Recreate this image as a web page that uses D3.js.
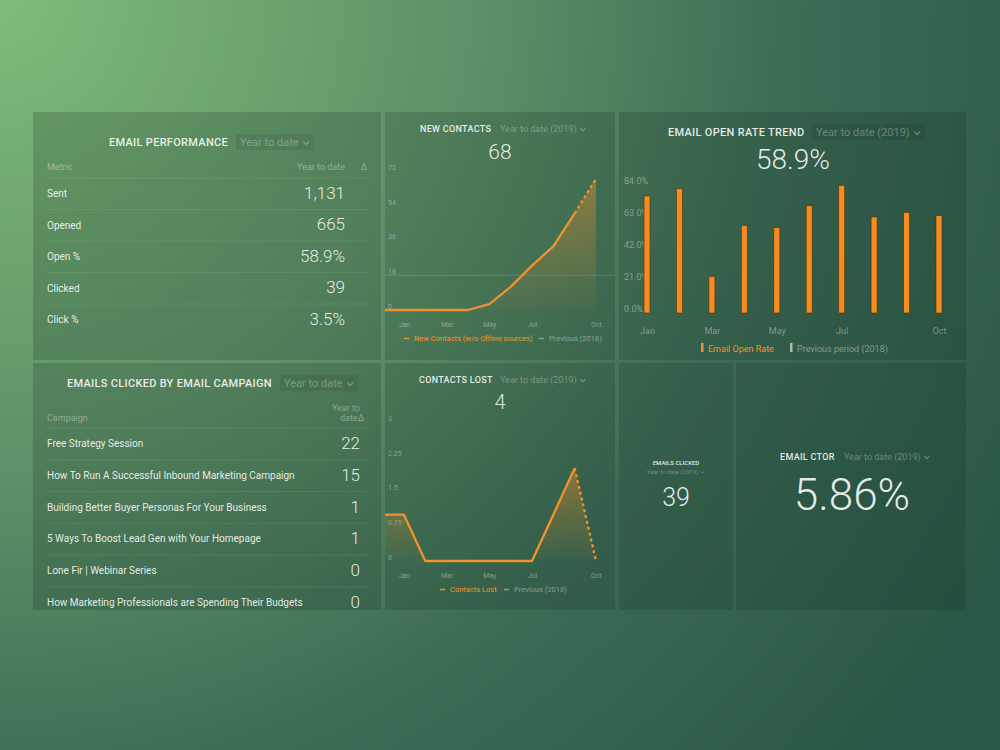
<!DOCTYPE html>
<html>
<head>
<meta charset="utf-8">
<script src="https://cdn.jsdelivr.net/npm/d3@7"></script>
<style>
	body { margin: 0; background: #2f5e4b; }
	svg { display: block; font-family: Roboto, 'Noto Sans', sans-serif; }
</style>
</head>
<body>
<svg id="board" width="1000" height="750"></svg>
<script>
// ---- data ----
const months = ['Dec', 'Jan', 'Feb', 'Mar', 'Apr', 'May', 'Jun', 'Jul', 'Aug', 'Sep', 'Oct'];
const monthTicks = ['Jan', 'Mar', 'May', 'Jul', 'Oct'];

const perfMetrics = ['Sent', 'Opened', 'Open %', 'Clicked', 'Click %'];
const perfValues = ['1,131', '665', '58.9%', '39', '3.5%'];

const newContacts = [0, 0, 0, 0, 0, 3, 12, 23, 33, 50, 68];
const newContactsTicks = [0, 18, 36, 54, 72];
const newContactsRef = 18;

const openRateMonths = months.slice(1);
const openRate = [76.8, 81.6, 24, 57.5, 56, 70.4, 83.8, 63, 66, 63.9];
const openRateTicks = [0, 21, 42, 63, 84];

const campaigns = [
	'Free Strategy Session',
	'How To Run A Successful Inbound Marketing Campaign',
	'Building Better Buyer Personas For Your Business',
	'5 Ways To Boost Lead Gen with Your Homepage',
	'Lone Fir | Webinar Series',
	'How Marketing Professionals are Spending Their Budgets'
];
const campaignClicks = [22, 15, 1, 1, 0, 0];

const contactsLost = [1, 1, 0, 0, 0, 0, 0, 0, 1, 2, 0];
const contactsLostTicks = [0, 0.75, 1.5, 2.25, 3];

const emailsClicked = '39';
const emailCtor = '5.86%';
const openRateTotal = '58.9%';
const newContactsTotal = '68';
const contactsLostTotal = '4';

// ---- styles ----
const ORANGE = '#f0932c';
const TXT = 'rgba(255,255,255,0.88)';
const DIM = 'rgba(255,255,255,0.38)';
const FAINT = 'rgba(255,255,255,0.3)';

const svg = d3.select('#board');
const defs = svg.append('defs');

const bg = defs.append('radialGradient')
	.attr('id', 'bgGrad')
	.attr('gradientUnits', 'userSpaceOnUse')
	.attr('cx', 0).attr('cy', 0).attr('r', 1150);
[['0%', '#80bc79'], ['40%', '#5f9268'], ['68%', '#3e6d56'], ['100%', '#2a5846']]
	.forEach(s => bg.append('stop').attr('offset', s[0]).attr('stop-color', s[1]));

const area = defs.append('linearGradient')
	.attr('id', 'areaGrad')
	.attr('x1', 0).attr('y1', 0).attr('x2', 0).attr('y2', 1);
area.append('stop').attr('offset', '0%').attr('stop-color', '#d98a2c').attr('stop-opacity', 0.5);
area.append('stop').attr('offset', '100%').attr('stop-color', '#d98a2c').attr('stop-opacity', 0.03);

svg.append('rect').attr('width', 1000).attr('height', 750).attr('fill', 'url(#bgGrad)');

function panel(x, y, w, h, id) {
	svg.append('rect')
		.attr('x', x).attr('y', y)
		.attr('width', w).attr('height', h)
		.attr('fill', 'rgba(16,40,28,0.2)');
	defs.append('clipPath').attr('id', id)
		.append('rect').attr('x', x).attr('y', y).attr('width', w).attr('height', h);
	return svg.append('g').attr('clip-path', `url(#${id})`);
}

function label(g, x, y, text, size, fill, weight, anchor) {
	return g.append('text')
		.attr('x', x).attr('y', y)
		.attr('font-size', size)
		.attr('font-weight', weight || 400)
		.attr('fill', fill)
		.attr('text-anchor', anchor || 'start')
		.text(text);
}

function dropdown(g, x, y, text, size, box) {
	const t = label(g, x, y, text, size, FAINT);
	const w = t.node().getComputedTextLength();
	if (box) {
		g.insert('rect', 'text')
			.attr('x', x - 4).attr('y', y - size - 1)
			.attr('width', w + size + 8).attr('height', size + 5)
			.attr('fill', 'rgba(0,0,0,0.07)');
	}
	const c = size * 0.28;
	g.append('path')
		.attr('d', `M${x + w + size * 0.4},${y - size * 0.42} l${c},${c} l${c},${-c}`)
		.attr('fill', 'none')
		.attr('stroke', FAINT)
		.attr('stroke-width', size / 8);
}

function title(g, x, y, text, size, ddX, ddText, ddSize, box) {
	label(g, x, y, text, size, TXT, 500).attr('letter-spacing', 0.3);
	dropdown(g, ddX, y, ddText, ddSize, box);
}

// ---- line chart (New Contacts / Contacts Lost) ----
function lineChart(g, o) {
	const x = d3.scalePoint().domain(months).range([382.6, 596]);
	const y = d3.scaleLinear().domain([0, d3.max(o.ticks)]).range([o.bottom, o.top]);
	const pts = months.map((m, i) => ({ m: m, v: o.values[i] }));

	const yAxis = g.append('g')
		.attr('transform', 'translate(388,0)')
		.call(d3.axisRight(y).tickValues(o.ticks).tickSize(0).tickPadding(0).tickFormat(d3.format('')));
	yAxis.select('.domain').remove();
	yAxis.selectAll('.tick text')
		.attr('dy', '-0.25em')
		.attr('fill', DIM)
		.attr('font-size', 7)
		.attr('font-family', 'Roboto');

	const xAxis = g.append('g')
		.attr('transform', `translate(0,${o.bottom + 12})`)
		.call(d3.axisBottom(x).tickValues(monthTicks).tickSize(0).tickPadding(0));
	xAxis.select('.domain').remove();
	xAxis.selectAll('.tick text')
		.attr('fill', DIM)
		.attr('font-size', 7)
		.attr('font-family', 'Roboto');

	if (o.ref != null) {
		g.append('line')
			.attr('x1', 385).attr('x2', 615)
			.attr('y1', y(o.ref)).attr('y2', y(o.ref))
			.attr('stroke', 'rgba(255,255,255,0.14)')
			.attr('stroke-width', 1);
	}

	g.append('path')
		.datum(pts)
		.attr('fill', 'url(#areaGrad)')
		.attr('d', d3.area().x(d => x(d.m)).y0(y(0)).y1(d => y(d.v)));

	const solid = pts.slice(0, pts.length - 1);
	const open = pts.slice(pts.length - 2);
	const line = d3.line().x(d => x(d.m)).y(d => y(d.v));

	g.append('path')
		.datum(solid)
		.attr('fill', 'none')
		.attr('stroke', ORANGE)
		.attr('stroke-width', 2.3)
		.attr('stroke-linejoin', 'round')
		.attr('d', line);
	g.append('path')
		.datum(open)
		.attr('fill', 'none')
		.attr('stroke', ORANGE)
		.attr('stroke-width', 2.3)
		.attr('stroke-dasharray', '3,3')
		.attr('d', line);

	// legend
	o.legend.forEach(l => {
		g.append('line')
			.attr('x1', l.x - 10).attr('x2', l.x - 5)
			.attr('y1', o.legendY - 2.5).attr('y2', o.legendY - 2.5)
			.attr('stroke', l.color).attr('stroke-width', 1.5);
		label(g, l.x, o.legendY, l.text, 7.5, l.color);
	});
}

// ---- panel 1: Email performance ----
const p1 = panel(33, 112, 348, 248, 'c1');
title(p1, 109, 146, 'EMAIL PERFORMANCE', 11, 240, 'Year to date', 11, true);
label(p1, 47, 170, 'Metric', 9, DIM);
label(p1, 345, 170, 'Year to date', 9, DIM, 400, 'end');
label(p1, 364, 170, 'Δ', 9, DIM, 400, 'middle');

const perfRows = d3.scaleBand().domain(perfMetrics).range([178, 335.5]);
const r1 = p1.selectAll('.perfRow')
	.data(perfMetrics)
	.enter()
	.append('g')
	.attr('class', 'perfRow')
	.attr('transform', d => `translate(0,${perfRows(d)})`);
r1.append('line')
	.attr('x1', 47).attr('x2', 368)
	.attr('stroke', 'rgba(255,255,255,0.08)');
r1.append('text')
	.attr('x', 47).attr('y', 19)
	.attr('font-size', 10)
	.attr('fill', TXT)
	.text(d => d);
r1.append('text')
	.attr('x', 345).attr('y', 20.5)
	.attr('text-anchor', 'end')
	.attr('font-size', 17)
	.attr('font-weight', 300)
	.attr('fill', TXT)
	.text((d, i) => perfValues[i]);

// ---- panel 2: New contacts ----
const p2 = panel(385, 112, 230, 248, 'c2');
title(p2, 420, 132, 'NEW CONTACTS', 9, 500, 'Year to date (2019)', 9, false);
label(p2, 500, 159, newContactsTotal, 21, TXT, 300, 'middle');
lineChart(p2, {
	values: newContacts,
	ticks: newContactsTicks,
	ref: newContactsRef,
	top: 171,
	bottom: 310,
	legendY: 341,
	legend: [
		{ x: 414, text: 'New Contacts (w/o Offline sources)', color: ORANGE },
		{ x: 549, text: 'Previous (2018)', color: 'rgba(255,255,255,0.4)' }
	]
});

// ---- panel 3: Email open rate trend ----
const p3 = panel(619, 112, 347, 248, 'c3');
title(p3, 668, 136, 'EMAIL OPEN RATE TREND', 11, 816, 'Year to date (2019)', 11, true);
label(p3, 793, 169, openRateTotal, 28, TXT, 300, 'middle');

const bx = d3.scalePoint().domain(openRateMonths).range([647, 939]);
const by = d3.scaleLinear().domain([0, 84]).range([313, 185]);

const byAxis = p3.append('g')
	.attr('transform', 'translate(624,0)')
	.call(d3.axisRight(by).tickValues(openRateTicks).tickSize(0).tickPadding(0).tickFormat(d => d3.format('.1f')(d) + '%'));
byAxis.select('.domain').remove();
byAxis.selectAll('.tick text')
	.attr('dy', '-0.2em')
	.attr('fill', DIM)
	.attr('font-size', 9)
	.attr('font-family', 'Roboto');

p3.selectAll('.bar')
	.data(openRate)
	.enter()
	.append('rect')
	.attr('class', 'bar')
	.attr('x', (d, i) => bx(openRateMonths[i]) - 3)
	.attr('y', d => by(d))
	.attr('width', 6)
	.attr('height', d => by(0) - by(d))
	.attr('fill', '#f68c1f')
	.attr('stroke', 'rgba(70,45,15,0.7)')
	.attr('stroke-width', 0.8);

const bxAxis = p3.append('g')
	.attr('transform', 'translate(0,328)')
	.call(d3.axisBottom(bx).tickValues(monthTicks).tickSize(0).tickPadding(0));
bxAxis.select('.domain').remove();
bxAxis.selectAll('.tick text')
	.attr('fill', DIM)
	.attr('font-size', 9)
	.attr('font-family', 'Roboto');

p3.append('rect').attr('x', 701).attr('y', 343).attr('width', 2.5).attr('height', 9).attr('fill', ORANGE);
label(p3, 708, 351.5, 'Email Open Rate', 9, ORANGE);
p3.append('rect').attr('x', 790).attr('y', 343).attr('width', 2.5).attr('height', 9).attr('fill', 'rgba(255,255,255,0.6)');
label(p3, 797, 351.5, 'Previous period (2018)', 9, 'rgba(255,255,255,0.4)');

// ---- panel 4: Emails clicked by campaign ----
const p4 = panel(33, 363, 348, 247, 'c4');
title(p4, 67, 387, 'EMAILS CLICKED BY EMAIL CAMPAIGN', 11, 284, 'Year to date', 11, true);
label(p4, 47, 421, 'Campaign', 9, DIM);
label(p4, 360, 411, 'Year to', 9, DIM, 400, 'end');
label(p4, 364, 421, 'dateΔ', 9, DIM, 400, 'end');

const campRows = d3.scaleBand().domain(campaigns).range([428, 618.8]);
const r4 = p4.selectAll('.campRow')
	.data(campaigns)
	.enter()
	.append('g')
	.attr('class', 'campRow')
	.attr('transform', d => `translate(0,${campRows(d)})`);
r4.append('line')
	.attr('x1', 47).attr('x2', 368)
	.attr('stroke', 'rgba(255,255,255,0.08)');
r4.append('text')
	.attr('x', 47).attr('y', 19)
	.attr('font-size', 10)
	.attr('fill', TXT)
	.text(d => d);
r4.append('text')
	.attr('x', 360).attr('y', 21)
	.attr('text-anchor', 'end')
	.attr('font-size', 17)
	.attr('font-weight', 300)
	.attr('fill', TXT)
	.text((d, i) => campaignClicks[i]);

// ---- panel 5: Contacts lost ----
const p5 = panel(385, 363, 230, 247, 'c5');
title(p5, 419, 383, 'CONTACTS LOST', 9, 500, 'Year to date (2019)', 9, false);
label(p5, 500, 409, contactsLostTotal, 20, TXT, 300, 'middle');
lineChart(p5, {
	values: contactsLost,
	ticks: contactsLostTicks,
	ref: null,
	top: 422,
	bottom: 561,
	legendY: 592,
	legend: [
		{ x: 450, text: 'Contacts Lost', color: ORANGE },
		{ x: 514, text: 'Previous (2018)', color: 'rgba(255,255,255,0.4)' }
	]
});

// ---- panel 6: Emails clicked ----
const p6 = panel(619, 363, 114, 247, 'c6');
label(p6, 676, 465, 'EMAILS CLICKED', 6, TXT, 500, 'middle');
dropdown(p6, 647, 474, 'Year to date (2019)', 6, false);
label(p6, 676, 506, emailsClicked, 25, TXT, 300, 'middle');

// ---- panel 7: Email CTOR ----
const p7 = panel(736, 363, 230, 247, 'c7');
title(p7, 780, 460, 'EMAIL CTOR', 9, 844, 'Year to date (2019)', 9, false);
label(p7, 852, 510, emailCtor, 44, TXT, 300, 'middle');
</script>
</body>
</html>
